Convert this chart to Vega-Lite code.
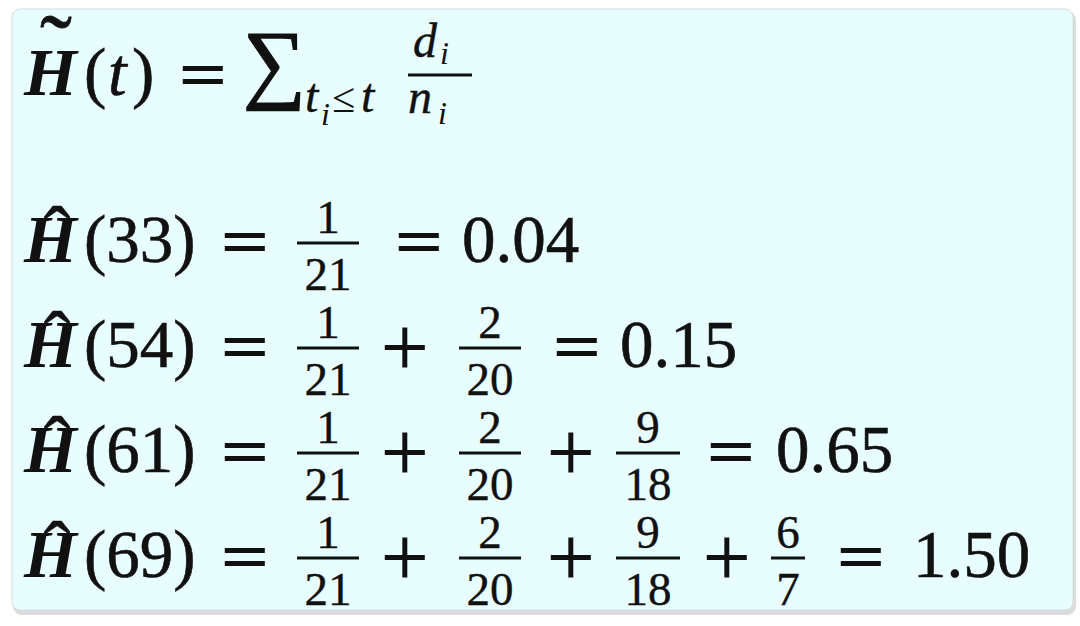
{
  "$schema": "https://vega.github.io/schema/vega-lite/v6.json",
  "width": 1080,
  "height": 626,
  "autosize": {"type": "fit", "contains": "padding"},
  "padding": 0,
  "background": "#ffffff",
  "config": {"view": {"stroke": null}},
  "datasets": {
    "shadow": [{"x": 13, "x2": 1076, "y": 11, "y2": 615}],
    "panel": [{"x": 12, "x2": 1073, "y": 9, "y2": 610}],
    "hvar": [
      {"x": 24, "y": 95, "t": "H"},
      {"x": 24, "y": 262, "t": "H"},
      {"x": 24, "y": 367, "t": "H"},
      {"x": 24, "y": 472, "t": "H"},
      {"x": 24, "y": 577, "t": "H"}
    ],
    "tilde": [
      {"x": 56, "y": 80, "t": "\u02dc"}
    ],
    "hat": [
      {"x": 57, "y": 262, "t": "\u02c6"},
      {"x": 57, "y": 367, "t": "\u02c6"},
      {"x": 57, "y": 472, "t": "\u02c6"},
      {"x": 57, "y": 577, "t": "\u02c6"}
    ],
    "upright": [
      {"x": 84, "y": 95, "t": "("},
      {"x": 132, "y": 95, "t": ")"},
      {"x": 84, "y": 262, "t": "(33)"},
      {"x": 84, "y": 367, "t": "(54)"},
      {"x": 84, "y": 472, "t": "(61)"},
      {"x": 84, "y": 577, "t": "(69)"},
      {"x": 462, "y": 262, "t": "0.04"},
      {"x": 620, "y": 367, "t": "0.15"},
      {"x": 776, "y": 472, "t": "0.65"},
      {"x": 913, "y": 577, "t": "1.50"}
    ],
    "ops": [
      {"x": 176, "y": 95, "t": "="},
      {"x": 218, "y": 262, "t": "="},
      {"x": 392, "y": 262, "t": "="},
      {"x": 218, "y": 367, "t": "="},
      {"x": 550, "y": 367, "t": "="},
      {"x": 218, "y": 472, "t": "="},
      {"x": 704, "y": 472, "t": "="},
      {"x": 218, "y": 577, "t": "="},
      {"x": 834, "y": 577, "t": "="},
      {"x": 378, "y": 367, "t": "+"},
      {"x": 378, "y": 472, "t": "+"},
      {"x": 544, "y": 472, "t": "+"},
      {"x": 378, "y": 577, "t": "+"},
      {"x": 544, "y": 577, "t": "+"},
      {"x": 700, "y": 577, "t": "+"}
    ],
    "itvar": [{"x": 108, "y": 95, "t": "t"}],
    "sigma": [{"x": 243, "y": 92, "t": "\u2211"}],
    "subvar": [
      {"x": 305, "y": 112, "t": "t"},
      {"x": 361, "y": 112, "t": "t"},
      {"x": 413, "y": 57, "t": "d"},
      {"x": 408, "y": 113, "t": "n"}
    ],
    "subsub": [
      {"x": 321, "y": 125, "t": "i"},
      {"x": 440, "y": 64, "t": "i"},
      {"x": 438, "y": 124, "t": "i"}
    ],
    "rel": [{"x": 332, "y": 112, "t": "\u2264"}],
    "frac": [
      {"x": 328, "y": 233, "t": "1"},
      {"x": 328, "y": 290, "t": "21"},
      {"x": 328, "y": 338, "t": "1"},
      {"x": 328, "y": 395, "t": "21"},
      {"x": 490, "y": 338, "t": "2"},
      {"x": 490, "y": 395, "t": "20"},
      {"x": 328, "y": 443, "t": "1"},
      {"x": 328, "y": 500, "t": "21"},
      {"x": 490, "y": 443, "t": "2"},
      {"x": 490, "y": 500, "t": "20"},
      {"x": 648, "y": 443, "t": "9"},
      {"x": 648, "y": 500, "t": "18"},
      {"x": 328, "y": 548, "t": "1"},
      {"x": 328, "y": 605, "t": "21"},
      {"x": 490, "y": 548, "t": "2"},
      {"x": 490, "y": 605, "t": "20"},
      {"x": 648, "y": 548, "t": "9"},
      {"x": 648, "y": 605, "t": "18"},
      {"x": 788, "y": 548, "t": "6"},
      {"x": 788, "y": 605, "t": "7"}
    ],
    "bars": [
      {"x": 408, "x2": 472, "y": 75},
      {"x": 297, "x2": 359, "y": 243},
      {"x": 297, "x2": 359, "y": 348},
      {"x": 459, "x2": 521, "y": 348},
      {"x": 297, "x2": 359, "y": 453},
      {"x": 459, "x2": 521, "y": 453},
      {"x": 616, "x2": 680, "y": 453},
      {"x": 297, "x2": 359, "y": 558},
      {"x": 459, "x2": 521, "y": 558},
      {"x": 616, "x2": 680, "y": 558},
      {"x": 771, "x2": 805, "y": 558}
    ]
  },
  "encoding": {
    "x": {"field": "x", "type": "quantitative", "scale": {"domain": [0, 1080], "nice": false, "zero": false}, "axis": null},
    "y": {"field": "y", "type": "quantitative", "scale": {"domain": [0, 626], "nice": false, "zero": false, "reverse": true}, "axis": null}
  },
  "layer": [
    {
      "data": {"name": "shadow"},
      "mark": {"type": "rect", "cornerRadius": 9, "fill": "#9a9a9a", "opacity": 0.35},
      "encoding": {"x2": {"field": "x2"}, "y2": {"field": "y2"}}
    },
    {
      "data": {"name": "panel"},
      "mark": {"type": "rect", "cornerRadius": 8, "fill": "#e8fefe", "stroke": "#d4dcdc", "strokeWidth": 1},
      "encoding": {"x2": {"field": "x2"}, "y2": {"field": "y2"}}
    },
    {
      "data": {"name": "bars"},
      "mark": {"type": "rule", "color": "#111111", "strokeWidth": 2.8},
      "encoding": {"x2": {"field": "x2"}}
    },
    {
      "data": {"name": "hvar"},
      "mark": {"type": "text", "align": "left", "baseline": "alphabetic", "font": "Liberation Serif", "fontSize": 68, "fontStyle": "italic", "fontWeight": "bold", "color": "#111111"},
      "encoding": {"text": {"field": "t"}}
    },
    {
      "data": {"name": "tilde"},
      "mark": {"type": "text", "align": "center", "baseline": "alphabetic", "font": "Liberation Serif", "fontSize": 96, "color": "#111111", "stroke": "#111111", "strokeWidth": 0.8},
      "encoding": {"text": {"field": "t"}}
    },
    {
      "data": {"name": "hat"},
      "mark": {"type": "text", "align": "center", "baseline": "alphabetic", "font": "Liberation Serif", "fontSize": 80, "color": "#111111", "stroke": "#111111", "strokeWidth": 0.6},
      "encoding": {"text": {"field": "t"}}
    },
    {
      "data": {"name": "upright"},
      "mark": {"type": "text", "align": "left", "baseline": "alphabetic", "font": "Liberation Serif", "fontSize": 67, "color": "#111111", "stroke": "#111111", "strokeWidth": 0.6},
      "encoding": {"text": {"field": "t"}}
    },
    {
      "data": {"name": "ops"},
      "mark": {"type": "text", "align": "left", "baseline": "alphabetic", "font": "DejaVu Serif", "fontSize": 64, "color": "#111111"},
      "encoding": {"text": {"field": "t"}}
    },
    {
      "data": {"name": "itvar"},
      "mark": {"type": "text", "align": "left", "baseline": "alphabetic", "font": "Liberation Serif", "fontSize": 67, "fontStyle": "italic", "color": "#111111", "stroke": "#111111", "strokeWidth": 0.6},
      "encoding": {"text": {"field": "t"}}
    },
    {
      "data": {"name": "sigma"},
      "mark": {"type": "text", "align": "left", "baseline": "alphabetic", "font": "Liberation Serif", "fontSize": 88, "color": "#111111", "stroke": "#111111", "strokeWidth": 1.5},
      "encoding": {"text": {"field": "t"}}
    },
    {
      "data": {"name": "subvar"},
      "mark": {"type": "text", "align": "left", "baseline": "alphabetic", "font": "Liberation Serif", "fontSize": 48, "fontStyle": "italic", "color": "#111111", "stroke": "#111111", "strokeWidth": 0.4},
      "encoding": {"text": {"field": "t"}}
    },
    {
      "data": {"name": "subsub"},
      "mark": {"type": "text", "align": "left", "baseline": "alphabetic", "font": "Liberation Serif", "fontSize": 32, "fontStyle": "italic", "color": "#111111"},
      "encoding": {"text": {"field": "t"}}
    },
    {
      "data": {"name": "rel"},
      "mark": {"type": "text", "align": "left", "baseline": "alphabetic", "font": "Liberation Serif", "fontSize": 42, "color": "#111111"},
      "encoding": {"text": {"field": "t"}}
    },
    {
      "data": {"name": "frac"},
      "mark": {"type": "text", "align": "center", "baseline": "alphabetic", "font": "Liberation Serif", "fontSize": 47, "color": "#111111", "stroke": "#111111", "strokeWidth": 0.4},
      "encoding": {"text": {"field": "t"}}
    }
  ]
}
